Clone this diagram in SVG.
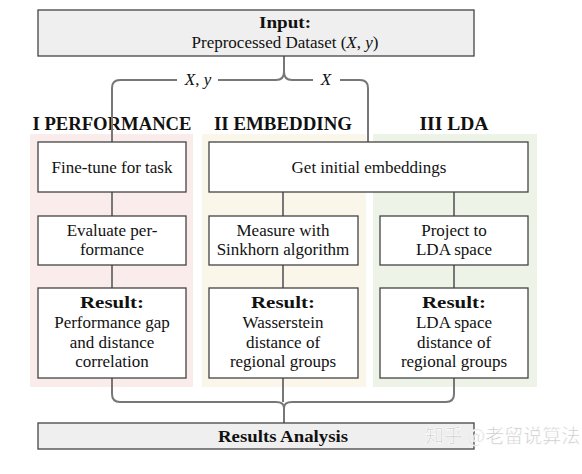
<svg xmlns="http://www.w3.org/2000/svg" width="582" height="474" viewBox="0 0 582 474">
<style>
text{font-family:"Liberation Serif","DejaVu Serif",serif;font-size:17px;fill:#111;text-anchor:middle}
.b{font-weight:bold}
.h{font-weight:bold;font-size:18px}
.i{font-style:italic}
.box{fill:#fff;stroke:#444;stroke-width:1.3}
.gbox{fill:#efefef;stroke:#444;stroke-width:1.3}
.line{fill:none;stroke:#777;stroke-width:2}
.wm{font-family:"Noto Sans CJK SC",sans-serif;font-size:19px;fill:#c8c8c8;stroke:#fff;stroke-width:0.6;text-anchor:start}
</style>
<rect width="582" height="474" fill="#fff"/>
<g id="panels">
<rect x="30" y="134" width="163" height="253" fill="#f9ecea"/>
<rect x="202" y="134" width="164" height="253" fill="#faf6ea"/>
<rect x="373" y="134" width="164" height="253" fill="#eef3e7"/>
</g>
<g id="headings">
<text class="h" x="112" y="130" textLength="159" lengthAdjust="spacingAndGlyphs">I PERFORMANCE</text>
<text class="h" x="283" y="130" textLength="138" lengthAdjust="spacingAndGlyphs">II EMBEDDING</text>
<text class="h" x="454" y="130" textLength="69" lengthAdjust="spacingAndGlyphs">III LDA</text>
</g>
<g id="connectors">
<path class="line" d="M284 56 V72 Q284 80 276 80 H218 M177 80 H120 Q112 80 112 88 V142"/>
<path class="line" d="M284 72 Q284 80 292 80 H313 M340 80 H360 Q368 80 368 88 V142"/>
<path class="line" d="M112 192 V216 M112 265 V288 M283 192 V216 M283 265 V288 M454 192 V216 M454 265 V288"/>
<path class="line" d="M112 378 V394 Q112 402 120 402 H276 Q284 402 284 408 Q284 402 292 402 H446 Q454 402 454 394 V378 M283 378 V402 M284 408 V423"/>
</g>
<text x="198" y="85"><tspan class="i">X</tspan>, <tspan class="i">y</tspan></text>
<text class="i" x="326" y="85">X</text>
<g id="input">
<rect class="gbox" x="38" y="10" width="436" height="46"/>
<text class="b" x="285" y="28" textLength="52" lengthAdjust="spacingAndGlyphs">Input:</text>
<text x="285" y="48">Preprocessed Dataset (<tspan class="i">X</tspan>, <tspan class="i">y</tspan>)</text>
</g>
<g id="finetune">
<rect class="box" x="38" y="142" width="148" height="50"/>
<text x="112" y="173">Fine-tune for task</text>
</g>
<g id="evaluate">
<rect class="box" x="38" y="216" width="148" height="49"/>
<text x="112" y="236">Evaluate per-</text>
<text x="112" y="255">formance</text>
</g>
<g id="result1">
<rect class="box" x="38" y="288" width="148" height="90"/>
<text class="b" x="112" y="308" textLength="64" lengthAdjust="spacingAndGlyphs">Result:</text>
<text x="112" y="328">Performance gap</text>
<text x="112" y="348">and distance</text>
<text x="112" y="367">correlation</text>
</g>
<g id="getemb">
<rect class="box" x="209" y="142" width="319" height="50"/>
<text x="369" y="173">Get initial embeddings</text>
</g>
<g id="measure">
<rect class="box" x="209" y="216" width="149" height="49"/>
<text x="283" y="236">Measure with</text>
<text x="283" y="255">Sinkhorn algorithm</text>
</g>
<g id="result2">
<rect class="box" x="209" y="288" width="149" height="90"/>
<text class="b" x="283" y="308" textLength="64" lengthAdjust="spacingAndGlyphs">Result:</text>
<text x="283" y="328">Wasserstein</text>
<text x="283" y="348">distance of</text>
<text x="283" y="367">regional groups</text>
</g>
<g id="project">
<rect class="box" x="380" y="216" width="148" height="49"/>
<text x="454" y="236">Project to</text>
<text x="454" y="255">LDA space</text>
</g>
<g id="result3">
<rect class="box" x="380" y="288" width="148" height="90"/>
<text class="b" x="454" y="308" textLength="64" lengthAdjust="spacingAndGlyphs">Result:</text>
<text x="454" y="328">LDA space</text>
<text x="454" y="348">distance of</text>
<text x="454" y="367">regional groups</text>
</g>
<g id="analysis">
<rect class="gbox" x="38" y="423" width="436" height="26"/>
<text class="b" x="283" y="442" textLength="130" lengthAdjust="spacingAndGlyphs">Results Analysis</text>
</g>
<text class="wm" x="425" y="443">知乎 @老留说算法</text>
</svg>
